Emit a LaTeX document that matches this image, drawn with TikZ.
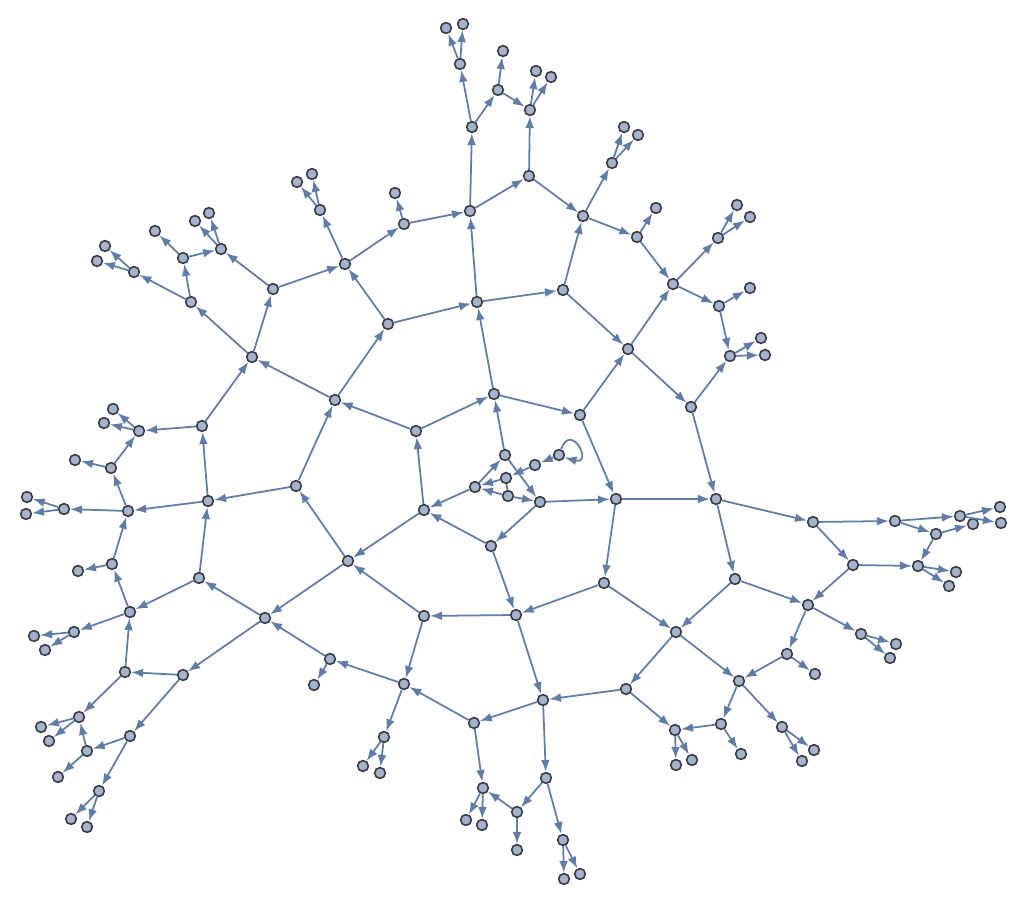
\documentclass[tikz,border=0pt]{standalone}
\usepackage{tikz}
\usetikzlibrary{arrows.meta}

\definecolor{arista}{RGB}{96,125,168}
\definecolor{relleno}{RGB}{165,180,205}
\definecolor{borde}{RGB}{55,58,66}

\begin{document}
\begin{tikzpicture}[x=0.01cm,y=-0.01cm,
  v/.style={circle,fill=relleno,draw=borde,line width=0.45pt,minimum size=3.05pt,inner sep=0pt},
  e/.style={arista,line width=0.5pt,-{Latex[length=3.4pt,width=2.5pt]}}]
% Marco de la figura (en pixeles)
\useasboundingbox (0,0) rectangle (1029,907);

% Vertices: nombre/x/y
\foreach \n/\x/\y in {a1/460/64, a2/446/28, a3/463/24, a4/472/127, a5/498/90, a6/503/51,
  a7/530/110, a8/536/71, a9/551/77, a10/529/176, a11/470/211, a12/404/224, a13/395/193,
  a14/583/216, a15/612/163, a16/624/127, a17/638/135, a18/637/237, a19/656/208,
  a20/673/284, a21/477/302, a22/563/290, a23/345/264, a24/628/349, a25/718/238,
  a26/737/205, a27/750/217, a28/719/306, a29/750/288,
  b1/273/289, b2/221/249, b3/209/213, b4/195/221, b5/183/258, b6/155/231, b7/191/302,
  b8/134/272, b9/105/246, b10/97/261, b11/320/210, b12/297/182, b13/312/174, b14/252/357,
  c1/388/324, c2/335/400, c3/494/394, c4/416/431, c5/424/510, c6/580/415, c7/616/499,
  c8/540/502, c9/491/546, c10/604/583, c11/348/561, c12/296/486, c13/691/407,
  i1/505/455, i2/475/487, i3/506/478, i4/508/496, i5/535/465, i6/559/455,
  e1/202/426, e2/139/431, e3/113/409, e4/104/423, e5/111/468, e6/75/460, e7/128/511,
  e8/64/509, e9/27/497, e10/26/514, e11/208/501, e12/112/564, e13/78/571, e14/199/578,
  e15/265/618, e16/130/612, e17/74/632, e18/34/636, e19/45/650, e20/125/672, e21/183/675,
  e22/330/659, e23/314/685, e24/79/717, e25/41/727, e26/49/741, e27/130/736, e28/87/751,
  e29/58/777, e30/99/791, e31/71/819, e32/87/827,
  d1/424/616, d2/516/615, d3/404/684, d4/474/723, d5/543/700, d6/626/689, d7/384/737,
  d8/363/766, d9/380/773, d10/483/788, d11/466/820, d12/482/825, d13/517/812, d14/517/850,
  d15/546/778, d16/563/840, d17/564/879, d18/580/874, d19/675/730, d20/676/765,
  d21/692/760, d22/676/632,
  r1/716/499, r2/730/356, r3/761/338, r4/765/355, r5/813/522, r6/895/521, r7/960/516,
  r8/1000/507, r9/1001/523, r10/936/534, r11/973/524, r12/918/566, r13/853/565,
  r14/956/572, r15/949/586, r16/735/579, r17/808/605, r18/861/634, r19/896/644,
  r20/890/658, r21/787/654, r22/815/674, r23/739/681, r24/721/724, r25/782/727,
  r26/814/750, r27/802/761, r28/741/754}
  \node[v] (\n) at (\x,\y) {};

% Aristas dirigidas: origen/destino
\foreach \a/\b in {a4/a1, a1/a2, a1/a3, a4/a5, a5/a6, a5/a7, a7/a8, a7/a9, a10/a7,
  a11/a4, a11/a10, a12/a11, a12/a13, a23/a12, a10/a14, a14/a15, a15/a16, a15/a17,
  a14/a18, a18/a19, a18/a20, a21/a11, a21/a22, a22/a14, a22/a24, a24/a20, a20/a25,
  a25/a26, a25/a27, a20/a28, a28/a29,
  b1/a23, b1/b2, b2/b3, b2/b4, b5/b2, b5/b6, b7/b5, b7/b8, b8/b9, b8/b10, a23/b11,
  b11/b12, b11/b13, b14/b7, b14/b1,
  c1/a23, c1/a21, c3/a21, c3/c6, c4/c3, c4/c2, c2/c1, c2/b14, c12/c2, c5/c4, c5/c11,
  c9/c5, c9/d2, c8/c9, c8/c7, c6/c7, c6/a24, a24/c13, c7/r1, c7/c10, c10/d2, c10/d22,
  c11/c12, c11/e15, c12/e11,
  i1/c8, i1/c3, i2/i1, i3/i2, i4/i2, i4/c8, i5/i3, i6/i5, i2/c5,
  e1/b14, e1/e2, e2/e3, e2/e4, e5/e2, e5/e6, e7/e5, e7/e8, e8/e9, e8/e10, e11/e7,
  e11/e1, e12/e7, e12/e13, e14/e11, e15/e14, e16/e12, e14/e16, e16/e17, e17/e18,
  e17/e19, e20/e16, e21/e20, e15/e21, e22/e15, e22/e23, e20/e24, e24/e25, e24/e26,
  e21/e27, e27/e28, e28/e24, e28/e29, e27/e30, e30/e31, e30/e32,
  d2/d1, d1/d3, d1/c11, d3/e22, d4/d3, d5/d4, d2/d5, d6/d5, d3/d7, d7/d8, d7/d9,
  d4/d10, d10/d11, d10/d12, d13/d10, d13/d14, d15/d13, d5/d15, d15/d16, d16/d17,
  d16/d18, d6/d19, d19/d20, d19/d21, d22/d6, d22/r23,
  a28/r2, r2/r3, r2/r4, c13/r2, c13/r1, r1/r5, r5/r6, r6/r7, r7/r8, r7/r9, r6/r10,
  r10/r11, r10/r12, r5/r13, r13/r12, r12/r14, r12/r15, r1/r16, r16/r17, r13/r17,
  r16/d22, r17/r18, r18/r19, r18/r20, r17/r21, r21/r22, r21/r23, r23/r24, r23/r25,
  r25/r26, r25/r27, r24/r28, r24/d19}
  \draw[e] (\a) -- (\b);

% Tramo corto sin punta visible
\draw[arista,line width=0.5pt] (i3) -- (i4);

% Lazo en i6
\draw[e] (i6.70) .. controls +(70:0.3cm) and +(-15:0.3cm) .. (i6.-25);
\end{tikzpicture}
\end{document}
